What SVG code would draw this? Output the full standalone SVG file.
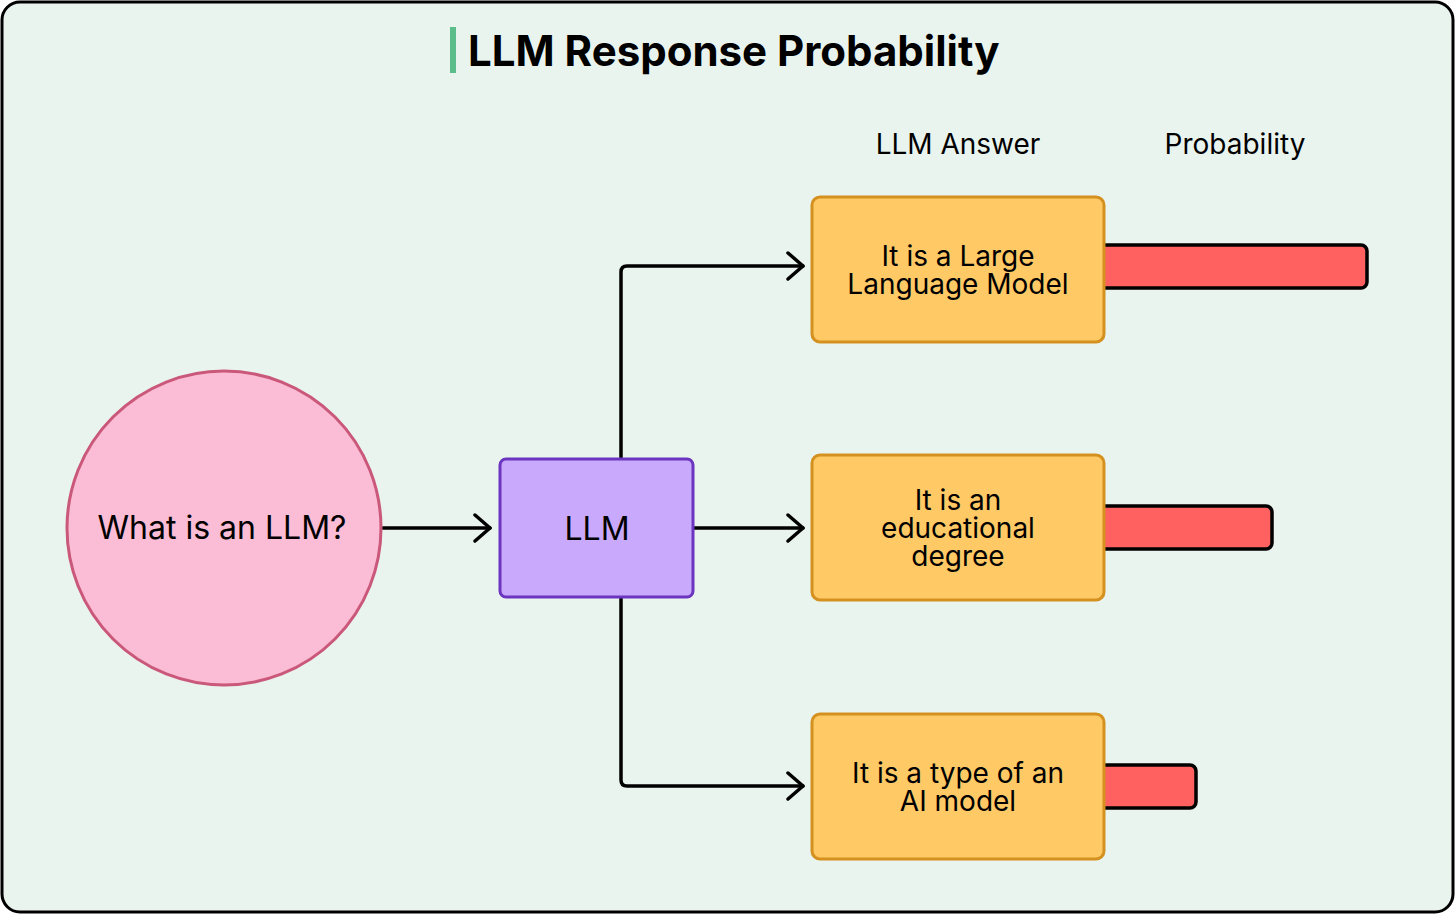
<svg xmlns="http://www.w3.org/2000/svg" width="1456" height="915" viewBox="0 0 1456 915">
<style>
text{font-family:Inter,"Liberation Sans",sans-serif;fill:#000;text-anchor:middle}
.t{font-size:28px}
.ans{fill:#FFC966;stroke:#D4911F;stroke-width:3}
.bar{fill:#FF6060;stroke:#000;stroke-width:3.5}
.c{fill:none;stroke:#000;stroke-width:3.5;stroke-linejoin:round;stroke-linecap:round}
</style>
<defs><marker id="a" viewBox="0 0 20 30" refX="18" refY="15" markerWidth="20" markerHeight="30" markerUnits="userSpaceOnUse" orient="auto"><path d="M3 2 L18 15 L3 28" fill="none" stroke="#000" stroke-width="3.5" stroke-linecap="round" stroke-linejoin="round"/></marker></defs>
<rect x="2" y="2" width="1451" height="910" rx="18" fill="#EAF4EF" stroke="#000" stroke-width="3"/>
<rect x="450" y="27" width="6" height="46" fill="#5BBD8A"/>
<text x="468" y="66" style="font-size:42px;font-weight:bold;text-anchor:start">LLM Response Probability</text>
<text class="t" x="958" y="154">LLM Answer</text>
<text class="t" x="1235" y="154">Probability</text>
<g id="connectors">
<path class="c" d="M383 528 H490" marker-end="url(#a)"/>
<path class="c" d="M694 528 H803" marker-end="url(#a)"/>
<path class="c" d="M621 458 V272 Q621 266 627 266 H803" marker-end="url(#a)"/>
<path class="c" d="M621 598 V780 Q621 786 627 786 H803" marker-end="url(#a)"/>
</g>
<g id="question"><circle cx="224" cy="528" r="157" fill="#FBBCD5" stroke="#C9587A" stroke-width="3"/><text x="222" y="539" style="font-size:32px">What is an LLM?</text></g>
<g id="llm"><rect x="500" y="459" width="193" height="138" rx="6" fill="#C9A9FB" stroke="#6B35C0" stroke-width="3"/><text x="597" y="540" style="font-size:32px">LLM</text></g>
<g id="bar1"><rect class="bar" x="1096" y="245" width="271" height="43" rx="6"/></g>
<g id="bar2"><rect class="bar" x="1096" y="506" width="176" height="43" rx="6"/></g>
<g id="bar3"><rect class="bar" x="1096" y="765" width="100" height="43" rx="6"/></g>
<g id="ans1"><rect class="ans" x="812" y="197" width="292" height="145" rx="8"/><text class="t" x="958" y="266">It is a Large</text><text class="t" x="958" y="294">Language Model</text></g>
<g id="ans2"><rect class="ans" x="812" y="455" width="292" height="145" rx="8"/><text class="t" x="958" y="510">It is an</text><text class="t" x="958" y="538">educational</text><text class="t" x="958" y="566">degree</text></g>
<g id="ans3"><rect class="ans" x="812" y="714" width="292" height="145" rx="8"/><text class="t" x="958" y="783">It is a type of an</text><text class="t" x="958" y="811">AI model</text></g>
</svg>
